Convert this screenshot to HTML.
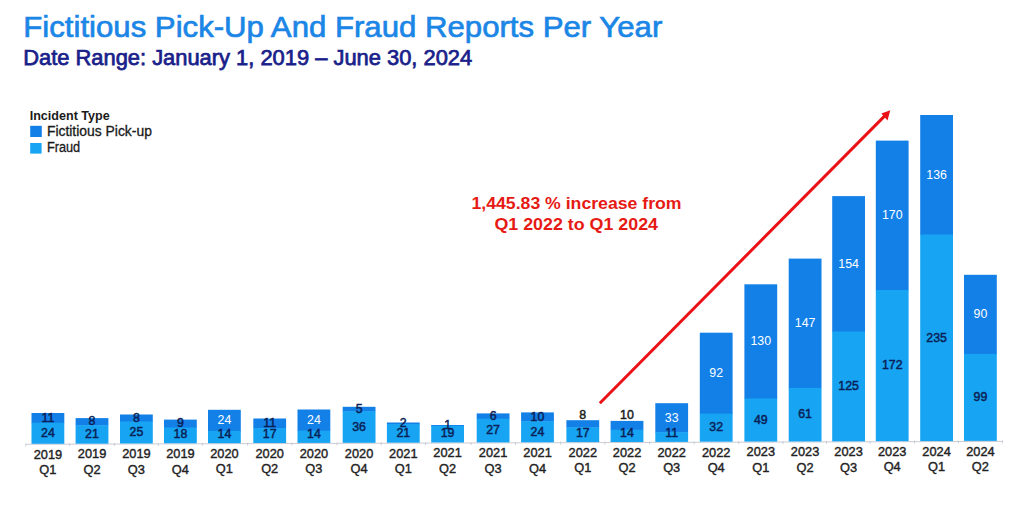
<!DOCTYPE html>
<html><head><meta charset="utf-8"><title>Fictitious Pick-Up And Fraud Reports Per Year</title>
<style>
html,body{margin:0;padding:0;background:#fff;}
body{width:1024px;height:515px;overflow:hidden;font-family:"Liberation Sans",Arial,sans-serif;}
svg{display:block;}
text{font-family:"Liberation Sans",Arial,sans-serif;}
.v{font-size:13.3px;text-anchor:middle;stroke-width:0.5px;}
.ax{font-size:13.2px;text-anchor:middle;fill:#222;stroke:#222;stroke-width:0.4px;}
</style></head><body>
<svg width="1024" height="515" viewBox="0 0 1024 515">
<rect width="1024" height="515" fill="#fff"/>
<text x="23.3" y="36.5" font-size="30.3" fill="#1b86e6" textLength="639" lengthAdjust="spacingAndGlyphs" stroke="#1b86e6" stroke-width="0.7">Fictitious Pick-Up And Fraud Reports Per Year</text>
<text x="23.2" y="65" font-size="21.6" fill="#1a1f8a" stroke="#1a1f8a" stroke-width="0.75" textLength="449" lengthAdjust="spacingAndGlyphs">Date Range: January 1, 2019 – June 30, 2024</text>
<text x="29.7" y="120" font-size="13.2" font-weight="bold" fill="#1a1a1a" textLength="80" lengthAdjust="spacingAndGlyphs">Incident Type</text>
<rect x="30.2" y="125.8" width="11.6" height="11.2" fill="#1380e8"/>
<rect x="30.2" y="143" width="11.4" height="10.6" fill="#17a4f3"/>
<text x="46.9" y="135.6" font-size="13.8" fill="#1a1a1a" stroke="#1a1a1a" stroke-width="0.3" textLength="105" lengthAdjust="spacingAndGlyphs">Fictitious Pick-up</text>
<text x="46.9" y="152" font-size="13.8" fill="#1a1a1a" stroke="#1a1a1a" stroke-width="0.3" textLength="33.3" lengthAdjust="spacingAndGlyphs">Fraud</text>
<line x1="26" y1="444.3" x2="1002.3" y2="441.4" stroke="#c9ccd4" stroke-width="1"/>
<line x1="25.8" y1="443.3" x2="25.8" y2="446.3" stroke="#c9ccd4" stroke-width="1"/>
<line x1="69.9" y1="443.2" x2="69.9" y2="446.2" stroke="#c9ccd4" stroke-width="1"/>
<line x1="114.3" y1="443.0" x2="114.3" y2="446.0" stroke="#c9ccd4" stroke-width="1"/>
<line x1="158.3" y1="442.9" x2="158.3" y2="445.9" stroke="#c9ccd4" stroke-width="1"/>
<line x1="202.3" y1="442.8" x2="202.3" y2="445.8" stroke="#c9ccd4" stroke-width="1"/>
<line x1="247.6" y1="442.6" x2="247.6" y2="445.6" stroke="#c9ccd4" stroke-width="1"/>
<line x1="291.8" y1="442.5" x2="291.8" y2="445.5" stroke="#c9ccd4" stroke-width="1"/>
<line x1="337.0" y1="442.4" x2="337.0" y2="445.4" stroke="#c9ccd4" stroke-width="1"/>
<line x1="381.2" y1="442.2" x2="381.2" y2="445.2" stroke="#c9ccd4" stroke-width="1"/>
<line x1="425.6" y1="442.1" x2="425.6" y2="445.1" stroke="#c9ccd4" stroke-width="1"/>
<line x1="471.0" y1="442.0" x2="471.0" y2="445.0" stroke="#c9ccd4" stroke-width="1"/>
<line x1="515.4" y1="441.8" x2="515.4" y2="444.8" stroke="#c9ccd4" stroke-width="1"/>
<line x1="560.7" y1="441.7" x2="560.7" y2="444.7" stroke="#c9ccd4" stroke-width="1"/>
<line x1="604.9" y1="441.6" x2="604.9" y2="444.6" stroke="#c9ccd4" stroke-width="1"/>
<line x1="649.6" y1="441.4" x2="649.6" y2="444.4" stroke="#c9ccd4" stroke-width="1"/>
<line x1="694.1" y1="441.3" x2="694.1" y2="444.3" stroke="#c9ccd4" stroke-width="1"/>
<line x1="738.7" y1="441.2" x2="738.7" y2="444.2" stroke="#c9ccd4" stroke-width="1"/>
<line x1="783.0" y1="441.0" x2="783.0" y2="444.0" stroke="#c9ccd4" stroke-width="1"/>
<line x1="826.5" y1="440.9" x2="826.5" y2="443.9" stroke="#c9ccd4" stroke-width="1"/>
<line x1="870.1" y1="440.8" x2="870.1" y2="443.8" stroke="#c9ccd4" stroke-width="1"/>
<line x1="914.5" y1="440.6" x2="914.5" y2="443.6" stroke="#c9ccd4" stroke-width="1"/>
<line x1="958.3" y1="440.5" x2="958.3" y2="443.5" stroke="#c9ccd4" stroke-width="1"/>
<line x1="1002.5" y1="440.4" x2="1002.5" y2="443.4" stroke="#c9ccd4" stroke-width="1"/>
<rect x="31.5" y="413.0" width="32.8" height="10.2" fill="#1380e8"/><rect x="31.5" y="422.7" width="32.8" height="21.1" fill="#17a4f3"/>
<rect x="75.6" y="418.1" width="32.8" height="7.5" fill="#1380e8"/><rect x="75.6" y="425.2" width="32.8" height="18.5" fill="#17a4f3"/>
<rect x="120.0" y="414.5" width="32.8" height="7.5" fill="#1380e8"/><rect x="120.0" y="421.5" width="32.8" height="22.0" fill="#17a4f3"/>
<rect x="164.0" y="419.6" width="32.8" height="8.4" fill="#1380e8"/><rect x="164.0" y="427.5" width="32.8" height="15.8" fill="#17a4f3"/>
<rect x="208.0" y="409.8" width="32.8" height="21.6" fill="#1380e8"/><rect x="208.0" y="430.9" width="32.8" height="12.3" fill="#17a4f3"/>
<rect x="253.3" y="418.5" width="32.8" height="10.2" fill="#1380e8"/><rect x="253.3" y="428.1" width="32.8" height="14.9" fill="#17a4f3"/>
<rect x="297.5" y="409.5" width="32.8" height="21.6" fill="#1380e8"/><rect x="297.5" y="430.6" width="32.8" height="12.3" fill="#17a4f3"/>
<rect x="342.7" y="406.8" width="32.8" height="4.9" fill="#1380e8"/><rect x="342.7" y="411.2" width="32.8" height="31.6" fill="#17a4f3"/>
<rect x="386.9" y="422.5" width="32.8" height="2.3" fill="#1380e8"/><rect x="386.9" y="424.2" width="32.8" height="18.5" fill="#17a4f3"/>
<rect x="431.2" y="425.0" width="32.8" height="1.4" fill="#1380e8"/><rect x="431.2" y="425.8" width="32.8" height="16.7" fill="#17a4f3"/>
<rect x="476.7" y="413.4" width="32.8" height="5.8" fill="#1380e8"/><rect x="476.7" y="418.7" width="32.8" height="23.7" fill="#17a4f3"/>
<rect x="521.1" y="412.4" width="32.8" height="9.3" fill="#1380e8"/><rect x="521.1" y="421.2" width="32.8" height="21.1" fill="#17a4f3"/>
<rect x="566.4" y="420.2" width="32.8" height="7.5" fill="#1380e8"/><rect x="566.4" y="427.2" width="32.8" height="14.9" fill="#17a4f3"/>
<rect x="610.6" y="420.9" width="32.8" height="9.3" fill="#1380e8"/><rect x="610.6" y="429.7" width="32.8" height="12.3" fill="#17a4f3"/>
<rect x="655.3" y="403.2" width="32.8" height="29.5" fill="#1380e8"/><rect x="655.3" y="432.2" width="32.8" height="9.7" fill="#17a4f3"/>
<rect x="699.8" y="332.7" width="32.8" height="81.4" fill="#1380e8"/><rect x="699.8" y="413.6" width="32.8" height="28.1" fill="#17a4f3"/>
<rect x="744.4" y="284.3" width="32.8" height="114.8" fill="#1380e8"/><rect x="744.4" y="398.5" width="32.8" height="43.1" fill="#17a4f3"/>
<rect x="788.7" y="258.6" width="32.8" height="129.7" fill="#1380e8"/><rect x="788.7" y="387.9" width="32.8" height="53.6" fill="#17a4f3"/>
<rect x="832.2" y="196.1" width="32.8" height="135.9" fill="#1380e8"/><rect x="832.2" y="331.5" width="32.8" height="109.9" fill="#17a4f3"/>
<rect x="875.8" y="140.6" width="32.8" height="149.9" fill="#1380e8"/><rect x="875.8" y="290.0" width="32.8" height="151.2" fill="#17a4f3"/>
<rect x="920.2" y="115.0" width="32.8" height="120.0" fill="#1380e8"/><rect x="920.2" y="234.5" width="32.8" height="206.6" fill="#17a4f3"/>
<rect x="964.0" y="274.8" width="32.8" height="79.6" fill="#1380e8"/><rect x="964.0" y="353.9" width="32.8" height="87.0" fill="#17a4f3"/>
<g transform="translate(47.9,436.9) scale(0.93,1)"><text class="v" fill="#0a1f55" stroke="#0a1f55">24</text></g><g transform="translate(47.9,421.6) scale(0.93,1)"><text class="v" fill="#0a1f55" stroke="#0a1f55">11</text></g>
<g transform="translate(47.9,458.5) scale(0.97,1)"><text class="ax">2019</text><text class="ax" y="15.5">Q1</text></g>
<g transform="translate(92.0,438.1) scale(0.93,1)"><text class="v" fill="#0a1f55" stroke="#0a1f55">21</text></g><g transform="translate(92.0,425.4) scale(0.93,1)"><text class="v" fill="#0a1f55" stroke="#0a1f55">8</text></g>
<g transform="translate(92.0,458.4) scale(0.97,1)"><text class="ax">2019</text><text class="ax" y="15.5">Q2</text></g>
<g transform="translate(136.4,436.2) scale(0.93,1)"><text class="v" fill="#0a1f55" stroke="#0a1f55">25</text></g><g transform="translate(136.4,421.7) scale(0.93,1)"><text class="v" fill="#0a1f55" stroke="#0a1f55">8</text></g>
<g transform="translate(136.4,458.2) scale(0.97,1)"><text class="ax">2019</text><text class="ax" y="15.5">Q3</text></g>
<g transform="translate(180.4,438.1) scale(0.93,1)"><text class="v" fill="#0a1f55" stroke="#0a1f55">18</text></g><g transform="translate(180.4,427.3) scale(0.93,1)"><text class="v" fill="#0a1f55" stroke="#0a1f55">9</text></g>
<g transform="translate(180.4,458.1) scale(0.97,1)"><text class="ax">2019</text><text class="ax" y="15.5">Q4</text></g>
<g transform="translate(224.4,438.0) scale(0.93,1)"><text class="v" fill="#0a1f55" stroke="#0a1f55">14</text></g><g transform="translate(224.4,424.1) scale(0.93,1)"><text class="v" fill="#fff" stroke="none">24</text></g>
<g transform="translate(224.4,458.0) scale(0.97,1)"><text class="ax">2020</text><text class="ax" y="15.5">Q1</text></g>
<g transform="translate(269.7,437.8) scale(0.93,1)"><text class="v" fill="#0a1f55" stroke="#0a1f55">17</text></g><g transform="translate(269.7,427.1) scale(0.93,1)"><text class="v" fill="#0a1f55" stroke="#0a1f55">11</text></g>
<g transform="translate(269.7,457.9) scale(0.97,1)"><text class="ax">2020</text><text class="ax" y="15.5">Q2</text></g>
<g transform="translate(313.9,437.7) scale(0.93,1)"><text class="v" fill="#0a1f55" stroke="#0a1f55">14</text></g><g transform="translate(313.9,423.8) scale(0.93,1)"><text class="v" fill="#fff" stroke="none">24</text></g>
<g transform="translate(313.9,457.7) scale(0.97,1)"><text class="ax">2020</text><text class="ax" y="15.5">Q3</text></g>
<g transform="translate(359.1,430.7) scale(0.93,1)"><text class="v" fill="#0a1f55" stroke="#0a1f55">36</text></g><g transform="translate(359.1,412.7) scale(0.93,1)"><text class="v" fill="#0a1f55" stroke="#0a1f55">5</text></g>
<g transform="translate(359.1,457.6) scale(0.97,1)"><text class="ax">2020</text><text class="ax" y="15.5">Q4</text></g>
<g transform="translate(403.3,437.2) scale(0.93,1)"><text class="v" fill="#0a1f55" stroke="#0a1f55">21</text></g><g transform="translate(403.3,427.1) scale(0.93,1)"><text class="v" fill="#0a1f55" stroke="#0a1f55">2</text></g>
<g transform="translate(403.3,457.5) scale(0.97,1)"><text class="ax">2021</text><text class="ax" y="15.5">Q1</text></g>
<g transform="translate(447.6,437.3) scale(0.93,1)"><text class="v" fill="#0a1f55" stroke="#0a1f55">19</text></g><g transform="translate(447.6,429.2) scale(0.93,1)"><text class="v" fill="#0a1f55" stroke="#0a1f55">1</text></g>
<g transform="translate(447.6,457.3) scale(0.97,1)"><text class="ax">2021</text><text class="ax" y="15.5">Q2</text></g>
<g transform="translate(493.1,434.3) scale(0.93,1)"><text class="v" fill="#0a1f55" stroke="#0a1f55">27</text></g><g transform="translate(493.1,419.8) scale(0.93,1)"><text class="v" fill="#0a1f55" stroke="#0a1f55">6</text></g>
<g transform="translate(493.1,457.2) scale(0.97,1)"><text class="ax">2021</text><text class="ax" y="15.5">Q3</text></g>
<g transform="translate(537.5,435.5) scale(0.93,1)"><text class="v" fill="#0a1f55" stroke="#0a1f55">24</text></g><g transform="translate(537.5,420.5) scale(0.93,1)"><text class="v" fill="#0a1f55" stroke="#0a1f55">10</text></g>
<g transform="translate(537.5,457.1) scale(0.97,1)"><text class="ax">2021</text><text class="ax" y="15.5">Q4</text></g>
<g transform="translate(582.8,436.9) scale(0.93,1)"><text class="v" fill="#0a1f55" stroke="#0a1f55">17</text></g><g transform="translate(582.8,419.4) scale(0.93,1)"><text class="v" fill="#1a1a1a" stroke="#1a1a1a" stroke-width="0.2">8</text></g>
<g transform="translate(582.8,456.9) scale(0.97,1)"><text class="ax">2022</text><text class="ax" y="15.5">Q1</text></g>
<g transform="translate(627.0,436.8) scale(0.93,1)"><text class="v" fill="#0a1f55" stroke="#0a1f55">14</text></g><g transform="translate(627.0,419.4) scale(0.93,1)"><text class="v" fill="#1a1a1a" stroke="#1a1a1a" stroke-width="0.2">10</text></g>
<g transform="translate(627.0,456.8) scale(0.97,1)"><text class="ax">2022</text><text class="ax" y="15.5">Q2</text></g>
<g transform="translate(671.7,436.6) scale(0.93,1)"><text class="v" fill="#0a1f55" stroke="#0a1f55">11</text></g><g transform="translate(671.7,421.5) scale(0.93,1)"><text class="v" fill="#fff" stroke="none">33</text></g>
<g transform="translate(671.7,456.7) scale(0.97,1)"><text class="ax">2022</text><text class="ax" y="15.5">Q3</text></g>
<g transform="translate(716.2,431.4) scale(0.93,1)"><text class="v" fill="#0a1f55" stroke="#0a1f55">32</text></g><g transform="translate(716.2,376.9) scale(0.93,1)"><text class="v" fill="#fff" stroke="none">92</text></g>
<g transform="translate(716.2,456.6) scale(0.97,1)"><text class="ax">2022</text><text class="ax" y="15.5">Q4</text></g>
<g transform="translate(760.8,423.8) scale(0.93,1)"><text class="v" fill="#0a1f55" stroke="#0a1f55">49</text></g><g transform="translate(760.8,345.2) scale(0.93,1)"><text class="v" fill="#fff" stroke="none">130</text></g>
<g transform="translate(760.8,456.4) scale(0.97,1)"><text class="ax">2023</text><text class="ax" y="15.5">Q1</text></g>
<g transform="translate(805.1,418.4) scale(0.93,1)"><text class="v" fill="#0a1f55" stroke="#0a1f55">61</text></g><g transform="translate(805.1,327.0) scale(0.93,1)"><text class="v" fill="#fff" stroke="none">147</text></g>
<g transform="translate(805.1,456.3) scale(0.97,1)"><text class="ax">2023</text><text class="ax" y="15.5">Q2</text></g>
<g transform="translate(848.6,390.2) scale(0.93,1)"><text class="v" fill="#0a1f55" stroke="#0a1f55">125</text></g><g transform="translate(848.6,267.5) scale(0.93,1)"><text class="v" fill="#fff" stroke="none">154</text></g>
<g transform="translate(848.6,456.2) scale(0.97,1)"><text class="ax">2023</text><text class="ax" y="15.5">Q3</text></g>
<g transform="translate(892.2,369.4) scale(0.93,1)"><text class="v" fill="#0a1f55" stroke="#0a1f55">172</text></g><g transform="translate(892.2,219.1) scale(0.93,1)"><text class="v" fill="#fff" stroke="none">170</text></g>
<g transform="translate(892.2,456.0) scale(0.97,1)"><text class="ax">2023</text><text class="ax" y="15.5">Q4</text></g>
<g transform="translate(936.6,341.5) scale(0.93,1)"><text class="v" fill="#0a1f55" stroke="#0a1f55">235</text></g><g transform="translate(936.6,178.5) scale(0.93,1)"><text class="v" fill="#fff" stroke="none">136</text></g>
<g transform="translate(936.6,455.9) scale(0.97,1)"><text class="ax">2024</text><text class="ax" y="15.5">Q1</text></g>
<g transform="translate(980.4,401.2) scale(0.93,1)"><text class="v" fill="#0a1f55" stroke="#0a1f55">99</text></g><g transform="translate(980.4,318.1) scale(0.93,1)"><text class="v" fill="#fff" stroke="none">90</text></g>
<g transform="translate(980.4,455.8) scale(0.97,1)"><text class="ax">2024</text><text class="ax" y="15.5">Q2</text></g>
<line x1="599.8" y1="403.3" x2="885" y2="115.6" stroke="#ea1216" stroke-width="3"/>
<polygon points="890.3,110.3 887.5,120.6 881.4,113.4" fill="#ea1216"/>
<text x="576.5" y="208.7" font-size="16" font-weight="bold" fill="#e61a14" text-anchor="middle" textLength="210" lengthAdjust="spacingAndGlyphs">1,445.83 % increase from</text>
<text x="576.2" y="229.5" font-size="16" font-weight="bold" fill="#e61a14" text-anchor="middle" textLength="163.6" lengthAdjust="spacingAndGlyphs">Q1 2022 to Q1 2024</text>
</svg></body></html>
